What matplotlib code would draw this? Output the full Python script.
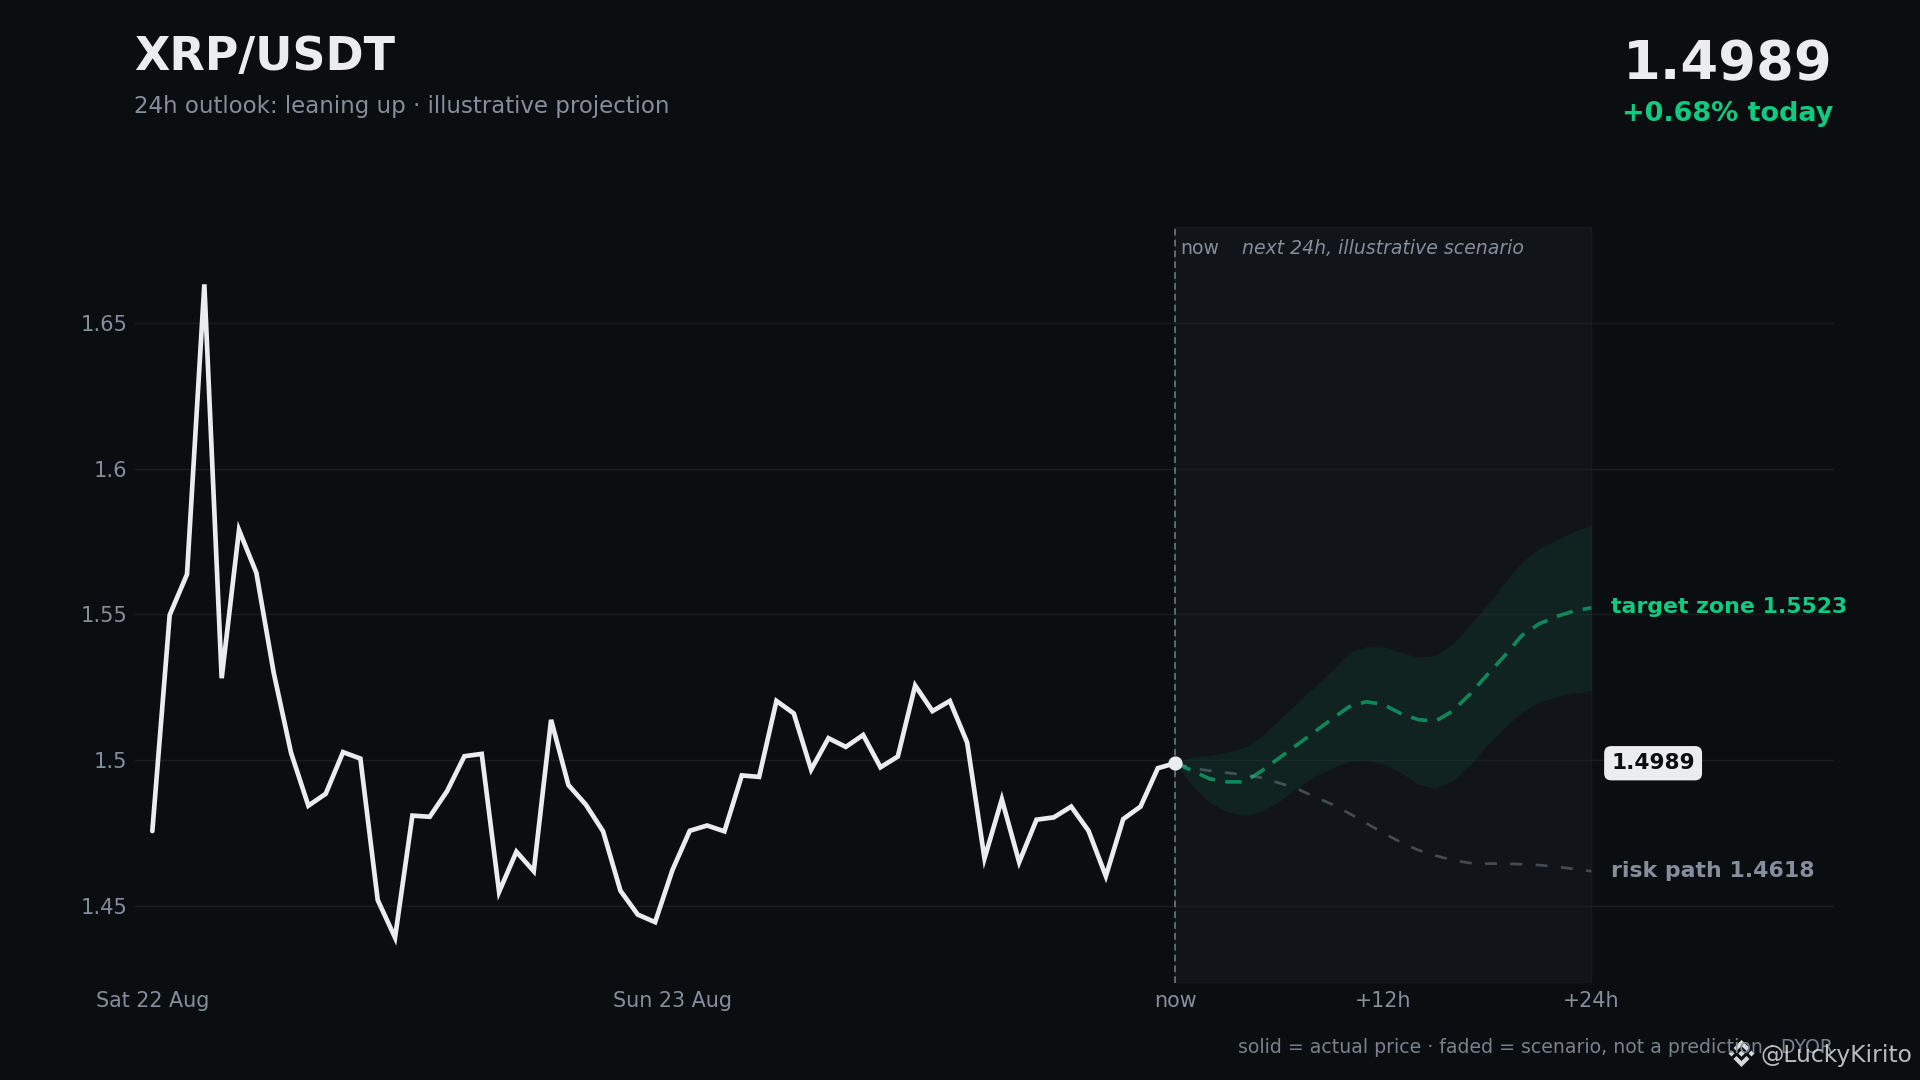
import matplotlib
matplotlib.use("Agg")
import matplotlib.pyplot as plt
from matplotlib.patches import Polygon

BG = "#0b0e11"
FG = "#eaecef"
GRAY = "#848e9c"
GREEN = "#0ecb81"

history = [1.4756, 1.5498, 1.5638, 1.6634, 1.5281, 1.5790, 1.5643, 1.5300, 1.5025, 1.4843,
           1.4884, 1.5027, 1.5005, 1.4519, 1.4390, 1.4809, 1.4805, 1.4893, 1.5013, 1.5021,
           1.4547, 1.4685, 1.4618, 1.5138, 1.4914, 1.4847, 1.4755, 1.4551, 1.4469, 1.4443,
           1.4622, 1.4757, 1.4775, 1.4755, 1.4947, 1.4942, 1.5203, 1.5160, 1.4967, 1.5075,
           1.5045, 1.5086, 1.4975, 1.5012, 1.5256, 1.5168, 1.5203, 1.5060, 1.4662, 1.4865,
           1.4649, 1.4795, 1.4803, 1.4840, 1.4757, 1.4601, 1.4797, 1.4840, 1.4972, 1.4989]
center = [1.4989, 1.4963, 1.4935, 1.4925, 1.4925, 1.4963, 1.5007, 1.5051, 1.5095, 1.5139,
          1.5182, 1.5200, 1.5191, 1.5160, 1.5139, 1.5133, 1.5168, 1.5226, 1.5293, 1.5358,
          1.5428, 1.5468, 1.5493, 1.5512, 1.5523]
upper = [1.4989, 1.5011, 1.5016, 1.5026, 1.5044, 1.5081, 1.5139, 1.5195, 1.5249, 1.5305,
         1.5367, 1.5389, 1.5389, 1.5370, 1.5353, 1.5358, 1.5398, 1.5463, 1.5533, 1.5607,
         1.5679, 1.5728, 1.5756, 1.5784, 1.5809]
lower = [1.4989, 1.4911, 1.4854, 1.4823, 1.4809, 1.4823, 1.4858, 1.4902, 1.4942, 1.4972,
         1.4995, 1.5000, 1.4986, 1.4958, 1.4916, 1.4904, 1.4928, 1.4984, 1.5051, 1.5112,
         1.5165, 1.5200, 1.5217, 1.5230, 1.5239]
risk = [1.4989, 1.4972, 1.4963, 1.4956, 1.4949, 1.4939, 1.4921, 1.4902, 1.4875, 1.4849,
        1.4818, 1.4784, 1.4749, 1.4718, 1.4691, 1.4672, 1.4656, 1.4646, 1.4644, 1.4644,
        1.4642, 1.4639, 1.4633, 1.4626, 1.4618]
hist_hours = list(range(-59, 1))
future_hours = list(range(0, 25))
y_ticks = [1.45, 1.5, 1.55, 1.6, 1.65]
y_tick_labels = ["1.45", "1.5", "1.55", "1.6", "1.65"]
x_ticks = [-59, -29, 0, 12, 24]
x_tick_labels = ["Sat 22 Aug", "Sun 23 Aug", "now", "+12h", "+24h"]

W, H = 1920, 1080
fig = plt.figure(figsize=(16, 9), dpi=120, facecolor=BG)
ax = fig.add_axes([135 / W, 1 - 983 / H, (1834 - 135) / W, (983 - 227) / H], facecolor=BG)
ax.set_xlim(-60, 38)
ax.set_ylim(1.4234, 1.6831)
for s in ax.spines.values():
    s.set_visible(False)
ax.set_yticks(y_ticks, y_tick_labels, color=GRAY, fontsize=12.6)
ax.set_xticks(x_ticks, x_tick_labels, color=GRAY, fontsize=12.4)
ax.tick_params(length=0, axis="y", pad=4.5)
ax.tick_params(length=0, axis="x", pad=5)
ax.grid(axis="y", color="#1e2329", lw=0.8, alpha=0.75)
ax.set_axisbelow(True)

ax.axvspan(0, 24, facecolor="#1e2329", alpha=0.36, edgecolor="none", zorder=1)
ax.axvspan(0, 24, facecolor="none", edgecolor="#1e2329", alpha=0.6, lw=0.8, zorder=1)
ax.fill_between(future_hours, lower, upper, color=GREEN, alpha=0.08, lw=0, zorder=2)
ax.plot(future_hours, risk, color=GRAY, alpha=0.45, lw=1.6, ls=(0, (4.5, 5)), zorder=3)
ax.plot(future_hours, center, color=GREEN, alpha=0.6, lw=2.2, ls=(0, (4.5, 2.8)), zorder=3)
ax.axvline(0, color=GRAY, lw=1, alpha=0.8, ls=(0, (4, 2.5)), zorder=3)
ax.plot(hist_hours, history, color=FG, lw=2.8, zorder=4, solid_joinstyle="miter", solid_capstyle="round")
ax.plot([0], [history[-1]], "o", color=FG, ms=7.5, zorder=5)

ax.annotate("now", (0, 1.6831), xytext=(3, -13), textcoords="offset points", color=GRAY, fontsize=11.3, va="center")
ax.annotate("next 24h, illustrative scenario", (0, 1.6831), xytext=(39.8, -13), textcoords="offset points",
            color=GRAY, fontsize=11.3, style="italic", va="center")

ax.annotate(f"target zone {center[-1]:.4f}", (24, center[-1]), xytext=(12, 0.6), textcoords="offset points",
            color=GREEN, fontsize=13.2, weight="bold", va="center", annotation_clip=False)
ax.annotate(f"risk path {risk[-1]:.4f}", (24, risk[-1]), xytext=(12, 0), textcoords="offset points",
            color=GRAY, fontsize=13.2, weight="bold", va="center", annotation_clip=False)
ax.annotate(f"{history[-1]:.4f}", (24, history[-1]), xytext=(12, 0), textcoords="offset points",
            color=BG, fontsize=13, weight="bold", va="center", annotation_clip=False,
            bbox=dict(boxstyle="round,pad=0.33", facecolor=FG, edgecolor="none"))


def T(x, y, s, **k):
    fig.text(x / W, 1 - y / H, s, **k)


T(134, 70.5, "XRP/USDT", color=FG, fontsize=27.5, weight="bold")
T(134, 113, "24h outlook: leaning up · illustrative projection", color=GRAY, fontsize=13.75)
T(1833, 79, f"{history[-1]:.4f}", color=FG, fontsize=32.6, weight="bold", ha="right")
T(1833, 121, "+0.68% today", color=GREEN, fontsize=16.2, weight="bold", ha="right")
T(1833, 1053, "solid = actual price · faded = scenario, not a prediction · DYOR", color=GRAY, fontsize=11.35, ha="right", alpha=0.9)
T(1760, 1062, "@LuckyKirito", color="#e6e8ea", fontsize=14, alpha=0.8)

# watermark logo
cx, cy = 1741.5, 1053.5
logo_shapes = [
    [(0, -13.5), (8, -5.5), (5, -2.5), (0, -7.5), (-5, -2.5), (-8, -5.5)],
    [(0, 13.5), (8, 5.5), (5, 2.5), (0, 7.5), (-5, 2.5), (-8, 5.5)],
    [(0, -3.2), (3.2, 0), (0, 3.2), (-3.2, 0)],
    [(-13, 0), (-10, -3), (-7, 0), (-10, 3)],
    [(13, 0), (10, -3), (7, 0), (10, 3)],
]
for shape in logo_shapes:
    fig.add_artist(Polygon([((cx + dx) / W, 1 - (cy + dy) / H) for dx, dy in shape],
                           closed=True, transform=fig.transFigure, facecolor="#d6d9dc", edgecolor="none"))

fig.savefig("out.png", dpi=120, facecolor=BG)
